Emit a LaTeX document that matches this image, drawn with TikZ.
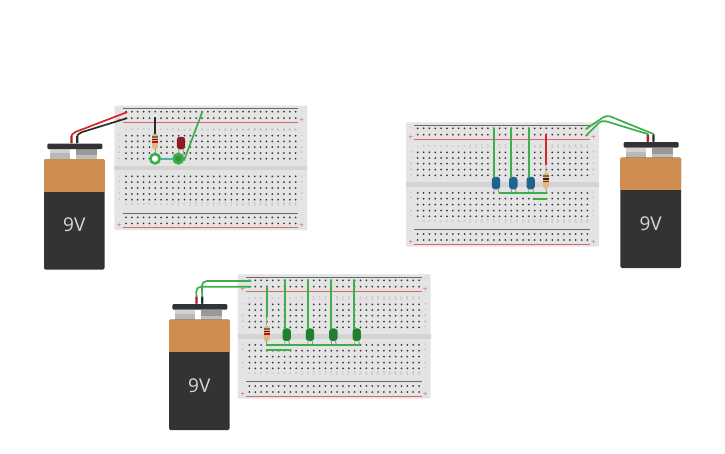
\documentclass[tikz,border=0pt]{standalone}
\usepackage{fontspec}
\newfontfamily\labelfont{Open Sans}
\definecolor{boardbg}{HTML}{E4E4E4}
\definecolor{boardgap}{HTML}{D4D4D4}
\definecolor{holegray}{HTML}{383838}
\definecolor{railred}{HTML}{D26A6A}
\definecolor{railgray}{HTML}{6A6A6A}
\definecolor{batdark}{HTML}{333333}
\definecolor{batorange}{HTML}{CF8D50}
\definecolor{wiregreen}{HTML}{3DAE4B}
\definecolor{wirered}{HTML}{D9232B}
\definecolor{wireblack}{HTML}{2B2B2B}
\definecolor{wireteal}{HTML}{4FB3A9}
\definecolor{ledred}{HTML}{8B1C1F}
\definecolor{ledblue}{HTML}{1F6391}
\definecolor{ledgreen}{HTML}{1F8030}
\definecolor{restan}{HTML}{DDBB80}
\tikzset{
	tinylabel/.style={inner sep=0,text=gray,rotate=90,font=\fontsize{2.6}{3}\selectfont},
	railplus/.style={inner sep=0,text=red!80!black,font=\fontsize{5}{5}\selectfont},
	wire/.style={draw,line width=1.7pt,line cap=round},
	lead/.style={draw=gray!80,line width=0.9pt},
	ledbody/.style={draw=none,rectangle,rounded corners=3pt,minimum width=8.4pt,minimum height=12.5pt,inner sep=0},
	resbody/.style={draw=none,fill=restan,rectangle,rounded corners=1.5pt,minimum width=5.6pt,minimum height=15.5pt,inner sep=0},
	ring/.style={circle,draw=wiregreen,line width=2.6pt,minimum size=9.4pt,inner sep=0},
	terminal/.style={rectangle,inner sep=0,minimum width=2.4pt,minimum height=7.5pt,rounded corners=0.6pt}
}
\newcommand{\breadboard}[3]{
	\begin{scope}[shift={(#2,#3)}]
		\fill [boardbg,rounded corners=1pt] (0,0) rectangle (193,124.3);
		\fill [boardgap] (0,60) rectangle (193,64.2);
		\draw [boardgap!60,line width=0.6pt] (0,21) -- (193,21) (0,104.3) -- (193,104.3);
		\draw [railgray,line width=0.9pt] (8.4,2.7) -- (184,2.7) (8.4,107.3) -- (184,107.3);
		\draw [railred,line width=0.9pt] (8.4,16.7) -- (184,16.7) (8.4,121.7) -- (184,121.7);
		\foreach \col in {0,...,29} {
			\foreach \rowy in {6,12.4,30,35.7,41.4,47.3,53,70.6,76.4,82.3,88.3,94,111.7,117.7}
				\fill [holegray] (11.7+5.85*\col,\rowy) circle (1);
			\pgfmathtruncatemacro{\colnum}{\col+1}
			\node [tinylabel] (#1top\colnum) at (11.7+5.85*\col,24.3) {\colnum};
			\node [tinylabel] (#1low\colnum) at (11.7+5.85*\col,99) {\colnum};
		}
		\foreach \rowy/\letter in {30/j,35.7/i,41.4/h,47.3/g,53/f,70.6/e,76.4/d,82.3/c,88.3/b,94/a} {
			\node [tinylabel] (#1left\letter) at (5,\rowy) {\letter};
			\node [tinylabel] (#1right\letter) at (187.5,\rowy) {\letter};
		}
		\node [tinylabel] (#1minusa) at (5,4.5) {-};
		\node [tinylabel] (#1minusb) at (187.5,4.5) {-};
		\node [tinylabel] (#1minusc) at (5,109) {-};
		\node [tinylabel] (#1minusd) at (187.5,109) {-};
		\node [railplus] (#1plusa) at (5,15) {+};
		\node [railplus] (#1plusb) at (187.5,15) {+};
		\node [railplus] (#1plusc) at (5,119.7) {+};
		\node [railplus] (#1plusd) at (187.5,119.7) {+};
	\end{scope}
}
\newcommand{\battery}[3]{
	\begin{scope}[shift={(#2,#3)}]
		\fill [gray!55] (6,-10) rectangle (26,0);
		\fill [gray!35] (6,-10) rectangle (26,-6);
		\fill [gray!50] (32,-4) rectangle (52.7,0);
		\fill [gray!80] (32,-10) rectangle (52.7,-4);
		\fill [batdark,rounded corners=1pt] (3.3,-15.3) rectangle (58.3,-10);
		\fill [batdark,rounded corners=1.5pt] (0,0) rectangle (60.7,110.5);
		\fill [batorange,rounded corners=1pt] (0,0) rectangle (60.7,3);
		\fill [batorange] (0,1.5) rectangle (60.7,32.7);
		\node [terminal,fill=wirered!80!black] (#1pos) at (27.5,-19.5) {};
		\node [terminal,fill=wireblack] (#1neg) at (33.2,-19.5) {};
		\node [text=white!85!black,inner sep=0,font=\labelfont\fontsize{19}{19}\selectfont] (#1label) at (30.3,66) {9V};
	\end{scope}
}
\newcommand{\bands}[1]{
	\fill [red!90!black] ([yshift=-1.2pt]#1.west) rectangle ([yshift=0.3pt]#1.east);
	\fill [black!85] ([yshift=1.2pt]#1.west) rectangle ([yshift=2.7pt]#1.east);
	\fill [brown!75!black] ([yshift=3.9pt]#1.west) rectangle ([yshift=5.4pt]#1.east);
}
\begin{document}
\begin{tikzpicture}[x=1pt,y=-1pt]
	\useasboundingbox (0,0) rectangle (725,453);

	\breadboard{ba}{114.3}{105.7}
	\breadboard{bb}{406}{122.3}
	\breadboard{bc}{237.7}{274.3}
	\battery{pa}{44}{159}
	\battery{pb}{620.3}{157.5}
	\battery{pc}{169}{319.5}

	% first board
	\coordinate (apos) at (126.7,112.3);
	\coordinate (aneg) at (126.7,118.3);
	\coordinate (ares) at (155,117.7);
	\coordinate (agnd) at (202.3,111.7);
	\node [resbody] (ra) at (155,141.5) {};
	\bands{ra}
	\node [ledbody,fill=ledred] (la) at (181,143) {};
	\draw [lead] (ra.south) -- (155,155);
	\draw [lead] (179,149) -- (178.3,155) (183,149) -- (184,156);
	\node [ring,fill=white] (rna) at (155,158.7) {};
	\node [ring,fill=wiregreen!85!black] (rnb) at (178.3,158.7) {};
	\draw [wire,wirered,rounded corners=2pt] (papos.north) -- (73.5,132.7) -- (apos);
	\draw [wire,wireblack,rounded corners=2pt] (paneg.north) -- (80,132.7) -- (aneg);
	\draw [wire,wireblack] (ares) -- (ra.north);
	\draw [wire,wireteal] (rna) -- (rnb);
	\draw [wire,wiregreen] (rnb.-15) -- (agnd);

	% second board
	\foreach \i/\wx/\lx in {a/494/496,b/511/513.3,c/528.7/530.7} {
		\coordinate (bw\i) at (\wx,128.3);
		\node [ledbody,fill=ledblue] (lb\i) at (\lx,183) {};
		\draw [lead] (\lx-2,189) -- (\lx-2,192.7) (\lx+2,189) -- (\lx+3,192.7);
		\draw [wire,wiregreen] (bw\i) -- (\wx,177);
	}
	\node [resbody] (rb) at (546,180.8) {};
	\bands{rb}
	\coordinate (bred) at (546,134.3);
	\coordinate (bredend) at (546,164.3);
	\coordinate (bjl) at (499.3,192.7);
	\coordinate (bjr) at (546.7,192.7);
	\coordinate (bkl) at (533.3,198.7);
	\coordinate (bkr) at (546.7,198.7);
	\coordinate (bpos) at (586,135.7);
	\coordinate (bneg) at (586,129);
	\draw [lead] (bredend) -- (rb.north) (rb.south) -- (bjr);
	\draw [wire,wirered] (bred) -- (bredend);
	\draw [wire,wiregreen] (bjl) -- (bjr);
	\draw [wire,wiregreen] (bkl) -- (bkr);
	\draw [wire,wiregreen,rounded corners=4pt] (pbpos.north) -- (601.7,120) -- (bpos);
	\draw [wire,wiregreen,rounded corners=4pt] (pbneg.north) -- (606.7,115) -- (bneg);

	% third board
	\foreach \i/\wx/\lx in {a/284.7/286.7,b/307.7/310,c/331/333.3,d/354.3/356.7} {
		\coordinate (cw\i) at (\wx,280);
		\node [ledbody,fill=ledgreen] (lc\i) at (\lx,334.7) {};
		\draw [lead] (\lx-2,341) -- (\lx-2,344.7) (\lx+2,341) -- (\lx+3,344.7);
		\draw [wire,wiregreen] (cw\i) -- (\wx,329);
	}
	\node [resbody] (rc) at (266.7,333.4) {};
	\bands{rc}
	\coordinate (cres) at (266.7,286);
	\coordinate (cresend) at (266.7,316.7);
	\coordinate (cjl) at (266.7,344.7);
	\coordinate (cjr) at (360,344.7);
	\coordinate (ckl) at (266.7,350.3);
	\coordinate (ckr) at (290.7,350.3);
	\coordinate (cpos) at (250.7,286.7);
	\coordinate (cneg) at (250.7,281);
	\draw [lead] (cresend) -- (rc.north) (rc.south) -- (cjl);
	\draw [wire,wiregreen] (cres) -- (cresend);
	\draw [wire,wiregreen] (cjl) -- (cjr);
	\draw [wire,wiregreen] (ckl) -- (ckr);
	\draw [wire,wiregreen,rounded corners=5pt] (pcpos.north) -- (196,286.7) -- (cpos);
	\draw [wire,wiregreen,rounded corners=5pt] (pcneg.north) -- (201.7,281) -- (cneg);
\end{tikzpicture}
\end{document}
